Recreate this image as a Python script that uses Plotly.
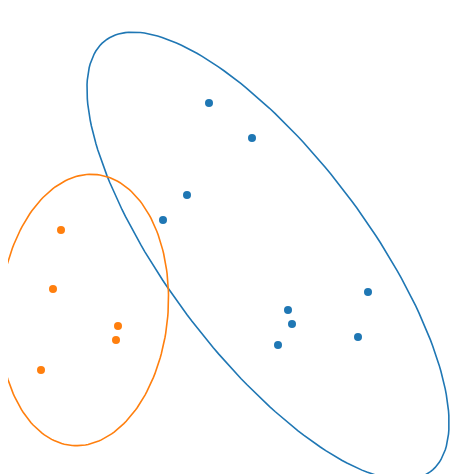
import numpy as np
import plotly.graph_objects as go

H = 474
blue_x = [209, 252, 187, 163, 288, 292, 278, 358, 368]
blue_y = [103, 138, 195, 220, 310, 324, 345, 337, 292]
orange_x = [61, 53, 118, 116, 41]
orange_y = [230, 289, 326, 340, 370]

# ellipse params: cx, cy, semi-major, semi-minor, angle (deg, screen coords)
blue_ell = [268, 256, 270, 100, 53]
orange_ell = [84, 310, 136, 84, 95]

BLUE = "#1f77b4"; ORANGE = "#ff7f0e"

def ell(p):
    cx, cy, a, b, ang = p
    t = np.linspace(0, 2*np.pi, 200)
    r = np.radians(ang)
    x = cx + a*np.cos(t)*np.cos(r) - b*np.sin(t)*np.sin(r)
    y = cy + a*np.cos(t)*np.sin(r) + b*np.sin(t)*np.cos(r)
    return x, H - y

fig = go.Figure()
for p, c in [(blue_ell, BLUE), (orange_ell, ORANGE)]:
    x, y = ell(p)
    fig.add_trace(go.Scatter(x=x, y=y, mode="lines", line=dict(color=c, width=1.6)))
fig.add_trace(go.Scatter(x=blue_x, y=[H - v for v in blue_y], mode="markers", marker=dict(color=BLUE, size=8)))
fig.add_trace(go.Scatter(x=orange_x, y=[H - v for v in orange_y], mode="markers", marker=dict(color=ORANGE, size=8)))
fig.add_shape(type="rect", xref="paper", yref="paper", x0=-0.1, x1=0.975, y0=-0.1, y1=1.006,
              line=dict(color="#999999", width=1.5))
fig.update_xaxes(range=[8, 482], visible=False)
fig.update_yaxes(range=[-8, 466], visible=False)
fig.update_layout(width=474, height=474, margin=dict(l=0, r=0, t=0, b=0),
                  showlegend=False, plot_bgcolor="white", paper_bgcolor="white")
fig.write_html("out.html")
